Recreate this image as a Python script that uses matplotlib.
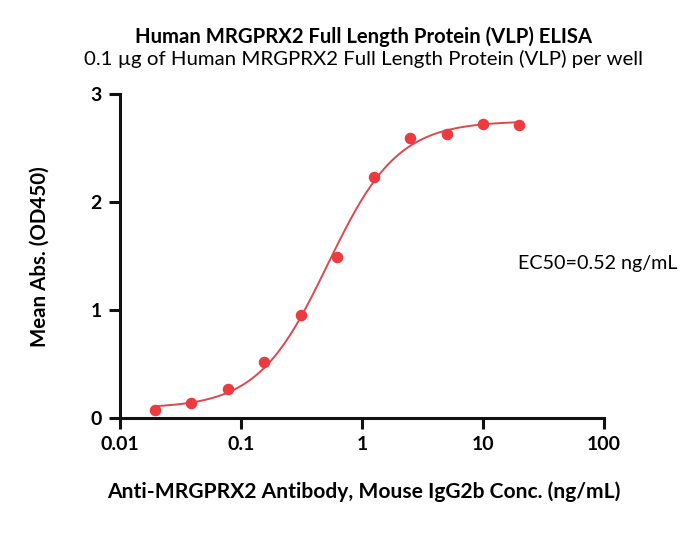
import numpy as np
import matplotlib.pyplot as plt

plt.rcParams['font.family'] = ['Lato', 'DejaVu Sans']

# antibody concentration (ng/mL) and mean OD450
conc = [0.0195, 0.039, 0.078, 0.156, 0.3125, 0.625, 1.25, 2.5, 5, 10, 20]
od450 = [0.074, 0.136, 0.266, 0.52, 0.954, 1.49, 2.23, 2.59, 2.63, 2.72, 2.71]

# 4PL fit parameters
bottom, top, ec50, hill = 0.09, 2.75, 0.52, 1.5

title = 'Human MRGPRX2 Full Length Protein (VLP) ELISA'
subtitle = '0.1 \u00b5g of Human MRGPRX2 Full Length Protein (VLP) per well'
xlabel = 'Anti-MRGPRX2 Antibody, Mouse IgG2b Conc. (ng/mL)'
ylabel = 'Mean Abs. (OD450)'
xticks = [0.01, 0.1, 1, 10, 100]
xticklabels = ['0.01', '0.1', '1', '10', '100']
yticks = [0, 1, 2, 3]

fig = plt.figure(figsize=(7, 5.56), dpi=100)
ax = fig.add_axes([0.1714, 0.2482, 0.6914, 0.5827])

xfit = np.logspace(np.log10(conc[0]), np.log10(conc[-1]), 300)
yfit = bottom + (top - bottom) / (1 + (ec50 / xfit) ** hill)
ax.plot(xfit, yfit, color='#e0474c', lw=1.4, clip_on=False)
ax.plot(conc, od450, 'o', color='#ec3b40', ms=7.3, clip_on=False)

ax.set_xscale('log')
ax.set_xlim(0.01, 100)
ax.set_ylim(0, 3)
ax.set_xticks(xticks)
ax.set_xticklabels(xticklabels)
ax.set_yticks(yticks)
ax.minorticks_off()

for s in ['top', 'right']:
    ax.spines[s].set_visible(False)
for s in ['left', 'bottom']:
    ax.spines[s].set_linewidth(2.2)
    ax.spines[s].set_color('#111111')
ax.tick_params(width=2.2, length=8, labelsize=14, pad=5, color='#111111')
for lab in ax.get_xticklabels() + ax.get_yticklabels():
    lab.set_fontweight('bold')

fig.text(0.519, 0.104, xlabel, ha='center', va='baseline', fontsize=15.1, fontweight='bold')
fig.text(0.056, 0.538, ylabel, ha='center', va='center', rotation=90, fontsize=14.8, fontweight='bold')

fig.text(0.519, 0.922, title, ha='center', va='baseline', fontsize=14.6, fontweight='bold')
fig.text(0.520, 0.883, subtitle, ha='center', va='baseline', fontsize=14.7)
ax.text(0.823, 0.461, 'EC50=0.52 ng/mL', transform=ax.transAxes, fontsize=14.2, va='baseline')

fig.savefig('out.png', dpi=100)
